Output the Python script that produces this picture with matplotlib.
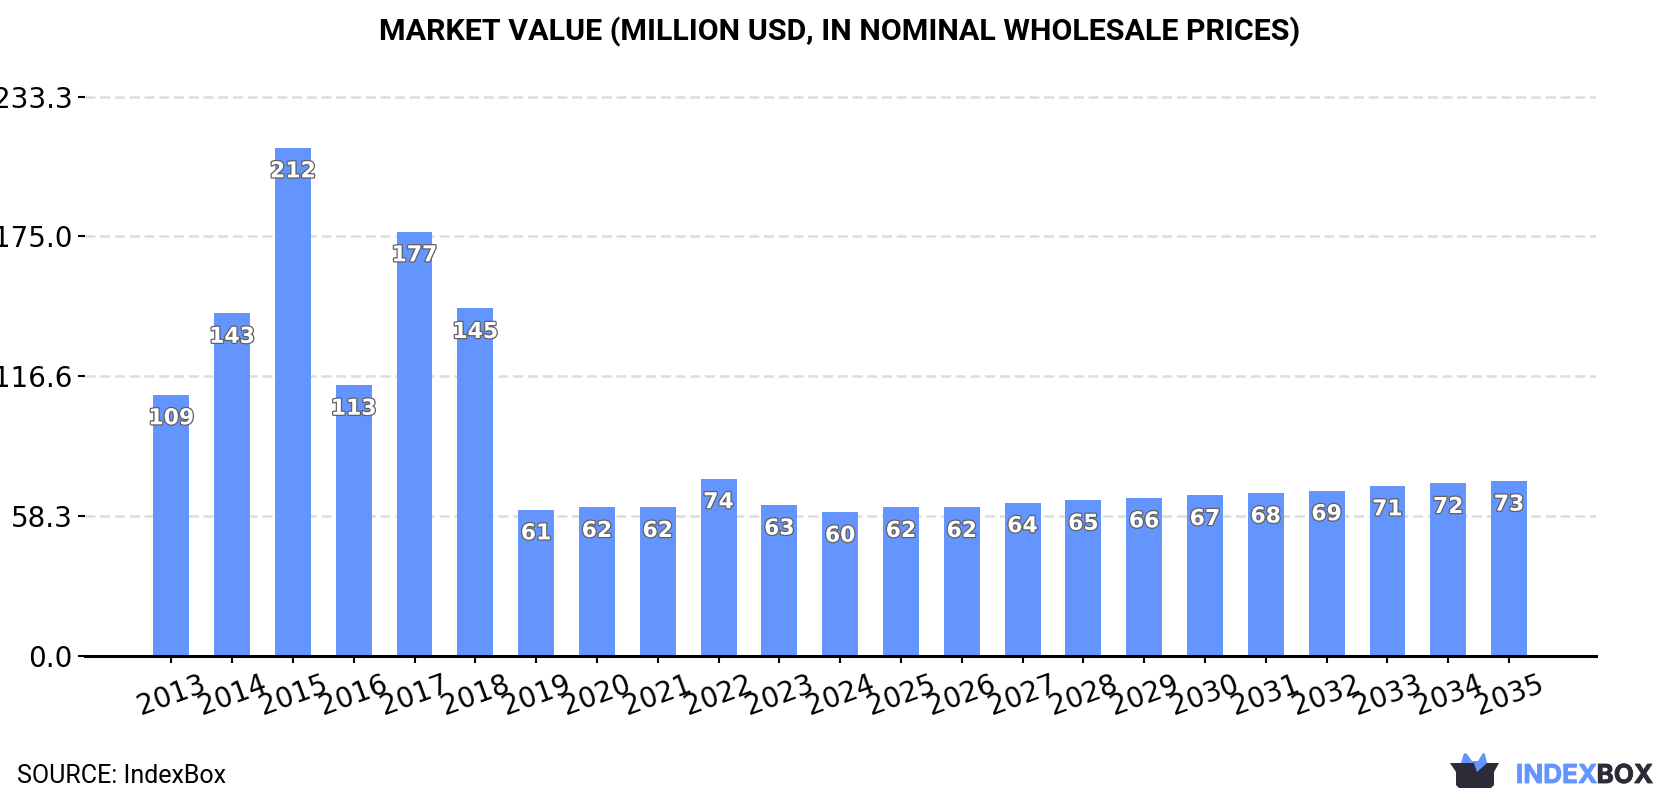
import matplotlib
matplotlib.use("Agg")
import matplotlib.pyplot as plt
import matplotlib.patches as patches
import matplotlib.patheffects as pe

years = [2013, 2014, 2015, 2016, 2017, 2018, 2019, 2020, 2021, 2022, 2023, 2024,
         2025, 2026, 2027, 2028, 2029, 2030, 2031, 2032, 2033, 2034, 2035]
values = [109, 143, 212, 113, 177, 145, 61, 62, 62, 74, 63, 60,
          62, 62, 64, 65, 66, 67, 68, 69, 71, 72, 73]
y_ticks = [0.0, 58.3, 116.6, 175.0, 233.3]

BLUE = "#6495ff"
DARK = "#2b2c38"
W, H = 1680, 800

fig = plt.figure(figsize=(W / 100, H / 100), dpi=100, facecolor="white")

# axes box in pixels, y runs up to a little over the top tick
px_per_unit = (656 - 96.7) / 233.3
y_max = 235.0
top_px = 656 - y_max * px_per_unit
ax = fig.add_axes([85 / W, (H - 656) / H, (1596 - 85) / W, (656 - top_px) / H])

x = list(range(len(years)))
ax.bar(x, values, width=0.59, color=BLUE, zorder=2)
ax.set_xlim(-1.42, 23.43)
ax.set_ylim(0, y_max)

ax.set_yticks(y_ticks)
ax.set_yticklabels([f"{t:.1f}" for t in y_ticks])
ax.set_xticks(x)
ax.set_xticklabels([str(y) for y in years], rotation=20, ha="center")
ax.tick_params(axis="both", labelsize=20, width=1.5, length=5, color="black", labelcolor="black")
ax.tick_params(axis="x", pad=5)
ax.tick_params(axis="y", pad=4)

ax.grid(axis="y", color="#dddddd", linewidth=1.8, linestyle=(0, (4, 1.9)), zorder=1)
ax.set_axisbelow(True)

for side in ["left", "right", "top"]:
    ax.spines[side].set_visible(False)
ax.spines["bottom"].set_linewidth(2.2)

# value labels sit just inside the top of each bar
for xi, v in zip(x, values):
    ax.annotate(str(v), (xi, v), xytext=(0, -17), textcoords="offset points",
                ha="center", va="center", fontsize=15.8, fontweight="bold", color="white",
                zorder=3, path_effects=[pe.withStroke(linewidth=1.8, foreground="#606060")])

fig.text(840 / W, 1 - 32 / H, "MARKET VALUE (MILLION USD, IN NOMINAL WHOLESALE PRICES)",
         family="Roboto", fontweight="bold", fontsize=21.9, ha="center", va="center", color="black")
fig.text(17 / W, 1 - 776 / H, "SOURCE: IndexBox", family="Roboto", fontsize=18,
         ha="left", va="center", color="black")

# logo, drawn in pixel coordinates
def to_fig(pts):
    return [(px / W, 1 - py / H) for px, py in pts]

blue_part = [(1461, 763), (1464, 753), (1467, 754), (1472, 761), (1478, 761), (1483, 753),
             (1485, 754), (1487, 763), (1477, 772), (1474, 763)]
box_part = [(1450, 763), (1499, 763), (1494, 772), (1494, 785), (1491, 788), (1459, 788),
            (1456, 785), (1456, 772)]
fig.add_artist(patches.Polygon(to_fig(box_part), closed=True, facecolor=DARK, edgecolor="none",
                               transform=fig.transFigure))
fig.add_artist(patches.Polygon(to_fig(blue_part), closed=True, facecolor=BLUE, edgecolor="none",
                               transform=fig.transFigure))
fig.text(1516 / W, 1 - 783 / H, "INDEX", family="Inter", fontweight="bold", fontsize=18.8,
         color=BLUE, ha="left", va="baseline",
         path_effects=[pe.withStroke(linewidth=0.6, foreground=BLUE)])
fig.text(1596.5 / W, 1 - 783 / H, "BOX", family="Inter", fontweight="bold", fontsize=18.8,
         color=DARK, ha="left", va="baseline",
         path_effects=[pe.withStroke(linewidth=0.6, foreground=DARK)])

fig.savefig("out.png", dpi=100)
